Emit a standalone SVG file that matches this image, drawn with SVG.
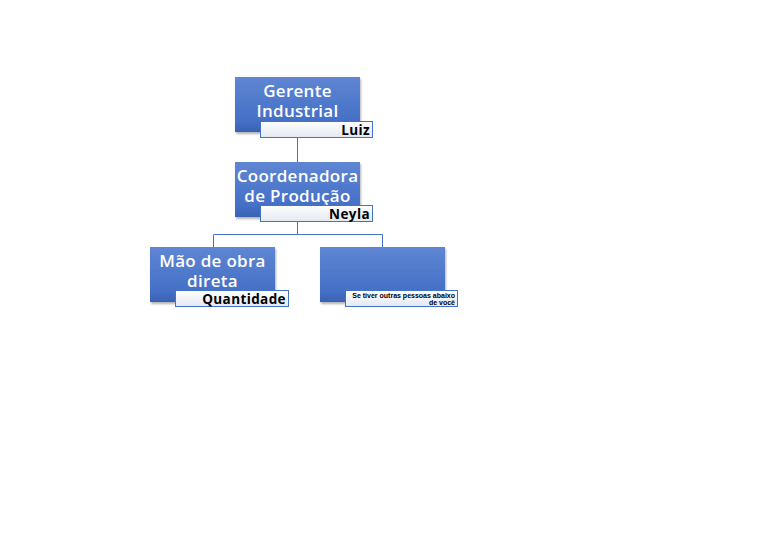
<svg xmlns="http://www.w3.org/2000/svg" width="768" height="543" viewBox="0 0 768 543">
<defs>
<linearGradient id="gBox" x1="0" y1="0" x2="0" y2="1">
<stop offset="0" stop-color="#5F86D3"/>
<stop offset="0.8" stop-color="#4470C6"/>
<stop offset="1" stop-color="#3A62B0"/>
</linearGradient>
<linearGradient id="gLab" x1="0" y1="0" x2="0" y2="1">
<stop offset="0" stop-color="#FFFFFF"/>
<stop offset="1" stop-color="#E4E8F2"/>
</linearGradient>
<filter id="sh" x="-10%" y="-10%" width="125%" height="130%">
<feDropShadow dx="1" dy="2" stdDeviation="1" flood-color="#000" flood-opacity="0.3"/>
</filter>
</defs>
<style>
.box{fill:url(#gBox);filter:url(#sh)}
.lab{fill:url(#gLab);stroke:#4472C4;stroke-width:1}
.t{font-family:"Open Sans","Liberation Sans",sans-serif;font-size:17px;font-weight:600;fill:#FFFFFF;text-anchor:middle;letter-spacing:0.3px}
.l{font-family:"Open Sans","Liberation Sans",sans-serif;font-size:13.5px;font-weight:bold;fill:#000;text-anchor:end;letter-spacing:0.4px}
.s{font-family:"Liberation Sans",sans-serif;font-size:7px;font-weight:bold;fill:#000;text-anchor:end}
.c{fill:none;stroke:#4472C4;stroke-width:1}
</style>
<rect width="768" height="543" fill="#FFFFFF"/>
<g id="connectors">
<path class="c" d="M297.5 138 V162"/>
<path class="c" d="M297.5 222 V234.5 H213.5 V248"/>
<path class="c" d="M297.5 234.5 H382.5 V248"/>
</g>
<g id="n1">
<rect class="box" x="235" y="77" width="125" height="55"/>
<text class="t" x="297.5" y="97">Gerente</text>
<text class="t" x="297.5" y="117">Industrial</text>
<rect class="lab" x="260.5" y="121.5" width="112" height="16"/>
<text class="l" x="370" y="134.5">Luiz</text>
</g>
<g id="n2">
<rect class="box" x="235" y="162" width="125" height="55"/>
<text class="t" x="297.5" y="182">Coordenadora</text>
<text class="t" x="297.5" y="202">de Produção</text>
<rect class="lab" x="260.5" y="205.5" width="112" height="16"/>
<text class="l" x="370" y="218.5">Neyla</text>
</g>
<g id="n3">
<rect class="box" x="150" y="247" width="125" height="55"/>
<text class="t" x="212.5" y="267">Mão de obra</text>
<text class="t" x="212.5" y="287">direta</text>
<rect class="lab" x="175.5" y="290.5" width="113" height="16"/>
<text class="l" x="286" y="303.5">Quantidade</text>
</g>
<g id="n4">
<rect class="box" x="320" y="247" width="125" height="55"/>
<rect class="lab" x="345.5" y="290.5" width="112" height="16"/>
<text class="s" x="455" y="297.5">Se tiver outras pessoas abaixo</text>
<text class="s" x="455" y="304.5">de você</text>
</g>
</svg>
